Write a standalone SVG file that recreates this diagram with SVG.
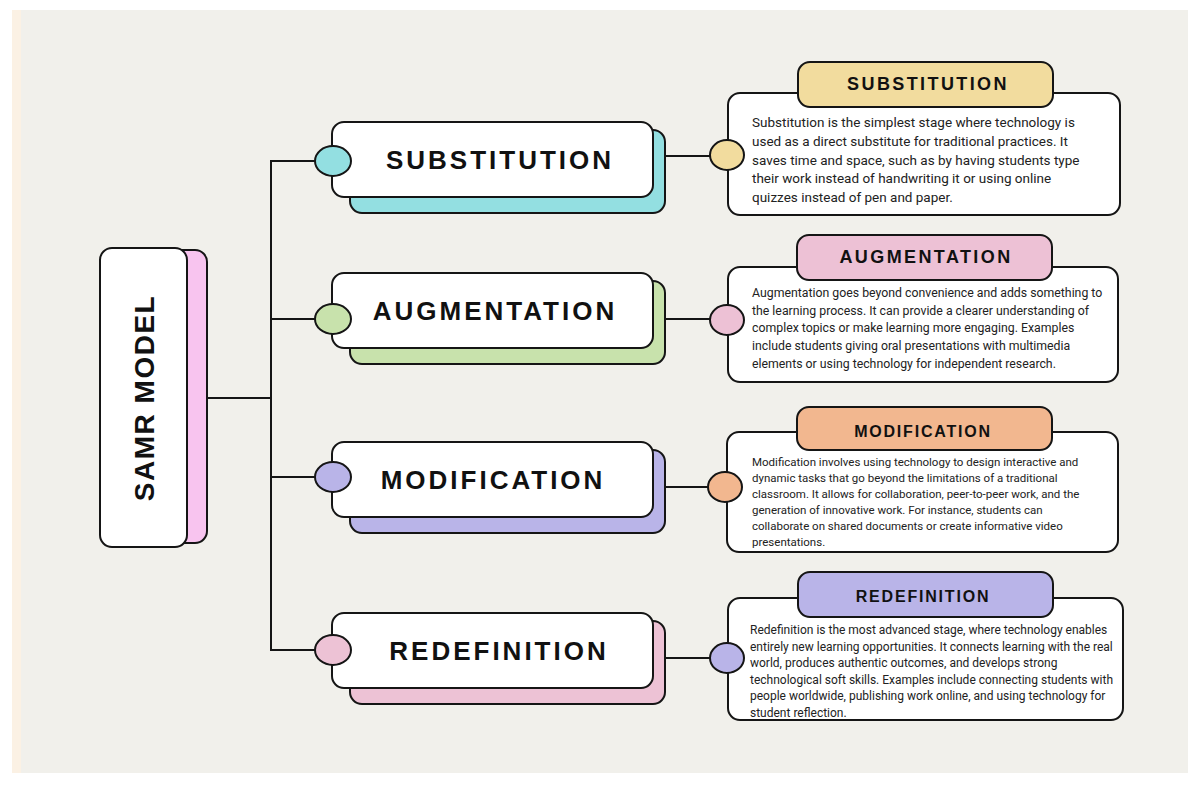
<svg xmlns="http://www.w3.org/2000/svg" width="1200" height="785" viewBox="0 0 1200 785">
<defs>
<style>
.ln{stroke:#151515;stroke-width:2;fill:none}
.bx{stroke:#151515;stroke-width:2}
.wh{fill:#ffffff;stroke:#151515;stroke-width:2}
.hd{font-family:"Liberation Sans",Arial,sans-serif;font-weight:bold;fill:#111;text-anchor:middle}
.main{font-size:26px;letter-spacing:3px}
.tab{font-size:18px;letter-spacing:2.4px}
.tab2{font-size:16px;letter-spacing:1.8px}
.body{font-family:Roboto,"Liberation Sans",sans-serif;fill:#222}
</style>
</defs>
<rect x="0" y="0" width="1200" height="785" fill="#ffffff"/>
<rect x="12" y="10" width="1176" height="763" fill="#f1f0eb"/>
<rect x="12" y="10" width="9" height="763" fill="#fbf1e4"/>

<g id="connectors">
<line class="ln" x1="207" y1="398" x2="271" y2="398"/>
<line class="ln" x1="271" y1="160" x2="271" y2="651"/>
<line class="ln" x1="270" y1="161" x2="320" y2="161"/>
<line class="ln" x1="270" y1="319" x2="320" y2="319"/>
<line class="ln" x1="270" y1="477" x2="320" y2="477"/>
<line class="ln" x1="270" y1="650" x2="320" y2="650"/>
<line class="ln" x1="665" y1="156" x2="712" y2="156"/>
<line class="ln" x1="665" y1="319" x2="712" y2="319"/>
<line class="ln" x1="665" y1="487" x2="710" y2="487"/>
<line class="ln" x1="665" y1="658" x2="712" y2="658"/>
</g>

<g id="samr">
<rect class="bx" x="150" y="250" width="57" height="293" rx="12" fill="#f8c4ef"/>
<rect class="wh" x="100" y="248" width="87" height="299" rx="12"/>
<text class="hd" transform="translate(154 398) rotate(-90)" font-size="28" letter-spacing="1.5">SAMR MODEL</text>
</g>

<g id="n-substitution">
<rect class="bx" x="350" y="130" width="315" height="83" rx="12" fill="#93dfe1"/>
<rect class="wh" x="332" y="122" width="321" height="75" rx="12"/>
<ellipse class="bx" cx="333" cy="161" rx="18" ry="15" fill="#93dfe1"/>
<text class="hd main" x="500" y="169">SUBSTITUTION</text>
</g>

<g id="n-augmentation">
<rect class="bx" x="350" y="281" width="315" height="83" rx="12" fill="#c8e2ac"/>
<rect class="wh" x="332" y="273" width="321" height="75" rx="12"/>
<ellipse class="bx" cx="333" cy="319" rx="18" ry="15" fill="#c8e2ac"/>
<text class="hd main" x="495" y="320">AUGMENTATION</text>
</g>

<g id="n-modification">
<rect class="bx" x="350" y="450" width="315" height="83" rx="12" fill="#b9b4e8"/>
<rect class="wh" x="332" y="442" width="321" height="75" rx="12"/>
<ellipse class="bx" cx="333" cy="477" rx="18" ry="15" fill="#b9b4e8"/>
<text class="hd main" x="493" y="489">MODIFICATION</text>
</g>

<g id="n-redefinition">
<rect class="bx" x="350" y="621" width="315" height="83" rx="12" fill="#edc2d5"/>
<rect class="wh" x="332" y="613" width="321" height="75" rx="12"/>
<ellipse class="bx" cx="333" cy="650" rx="18" ry="15" fill="#edc2d5"/>
<text class="hd main" x="499" y="660">REDEFINITION</text>
</g>

<g id="d-substitution">
<rect class="wh" x="728" y="93" width="392" height="122" rx="12"/>
<rect class="bx" x="798" y="62" width="255" height="45" rx="12" fill="#f2dc9e"/>
<text class="hd tab" x="928" y="90">SUBSTITUTION</text>
<ellipse class="bx" cx="727" cy="155" rx="17" ry="15" fill="#f2dc9e"/>
<text class="body" font-size="13.5">
<tspan x="752" y="127">Substitution is the simplest stage where technology is</tspan>
<tspan x="752" y="145.8">used as a direct substitute for traditional practices. It</tspan>
<tspan x="752" y="164.6">saves time and space, such as by having students type</tspan>
<tspan x="752" y="183.4">their work instead of handwriting it or using online</tspan>
<tspan x="752" y="202.2">quizzes instead of pen and paper.</tspan>
</text>
</g>

<g id="d-augmentation">
<rect class="wh" x="728" y="267" width="390" height="115" rx="12"/>
<rect class="bx" x="797" y="235" width="255" height="45" rx="12" fill="#edc1d5"/>
<text class="hd tab" x="926" y="263">AUGMENTATION</text>
<ellipse class="bx" cx="727" cy="320" rx="17" ry="15" fill="#edc1d5"/>
<text class="body" font-size="12.3">
<tspan x="752" y="297">Augmentation goes beyond convenience and adds something to</tspan>
<tspan x="752" y="314.7">the learning process. It can provide a clearer understanding of</tspan>
<tspan x="752" y="332.4">complex topics or make learning more engaging. Examples</tspan>
<tspan x="752" y="350.1">include students giving oral presentations with multimedia</tspan>
<tspan x="752" y="367.8">elements or using technology for independent research.</tspan>
</text>
</g>

<g id="d-modification">
<rect class="wh" x="727" y="432" width="391" height="120" rx="12"/>
<rect class="bx" x="797" y="407" width="255" height="43" rx="12" fill="#f2b78f"/>
<text class="hd tab2" x="923" y="437">MODIFICATION</text>
<ellipse class="bx" cx="725" cy="487" rx="17" ry="15" fill="#f2b78f"/>
<text class="body" font-size="11.5">
<tspan x="752" y="466">Modification involves using technology to design interactive and</tspan>
<tspan x="752" y="482">dynamic tasks that go beyond the limitations of a traditional</tspan>
<tspan x="752" y="498">classroom. It allows for collaboration, peer-to-peer work, and the</tspan>
<tspan x="752" y="514">generation of innovative work. For instance, students can</tspan>
<tspan x="752" y="530">collaborate on shared documents or create informative video</tspan>
<tspan x="752" y="546">presentations.</tspan>
</text>
</g>

<g id="d-redefinition">
<rect class="wh" x="728" y="598" width="395" height="122" rx="12"/>
<rect class="bx" x="798" y="572" width="255" height="45" rx="12" fill="#b9b4e8"/>
<text class="hd tab2" x="923" y="602">REDEFINITION</text>
<ellipse class="bx" cx="727" cy="658" rx="17" ry="15" fill="#b9b4e8"/>
<text class="body" font-size="12">
<tspan x="750" y="634">Redefinition is the most advanced stage, where technology enables</tspan>
<tspan x="750" y="650.5">entirely new learning opportunities. It connects learning with the real</tspan>
<tspan x="750" y="667">world, produces authentic outcomes, and develops strong</tspan>
<tspan x="750" y="683.5">technological soft skills. Examples include connecting students with</tspan>
<tspan x="750" y="700">people worldwide, publishing work online, and using technology for</tspan>
<tspan x="750" y="716.5">student reflection.</tspan>
</text>
</g>
</svg>
